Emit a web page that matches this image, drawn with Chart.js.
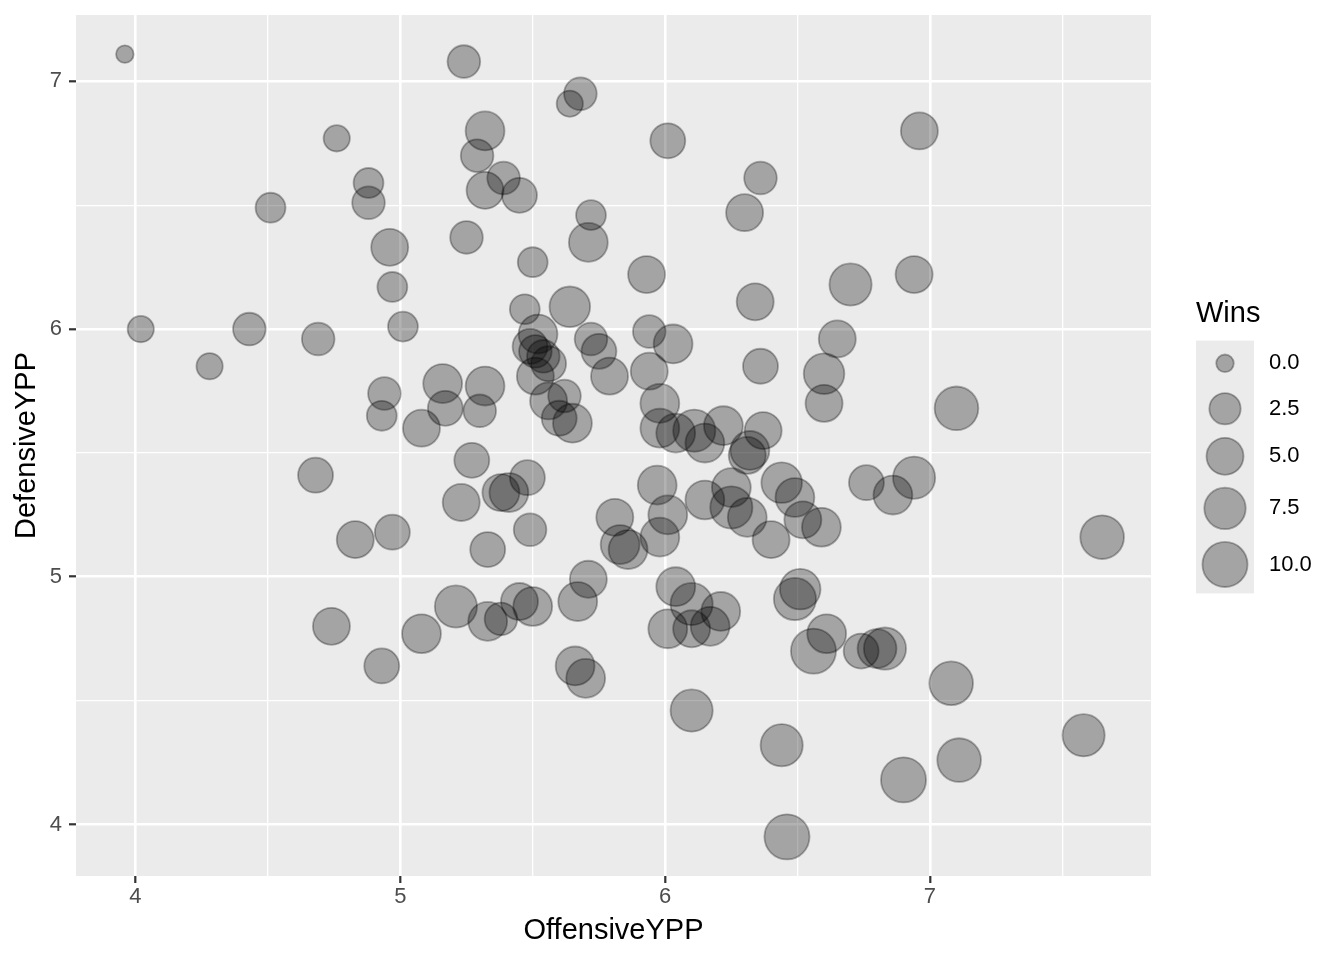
<!DOCTYPE html>
<html>
<head>
<meta charset="utf-8">
<title>DefensiveYPP vs OffensiveYPP</title>
<script src="https://cdn.jsdelivr.net/npm/chart.js@4.4.1/dist/chart.umd.min.js"></script>
<style>
  html, body { margin: 0; padding: 0; background: #ffffff; }
  #wrap { width: 1344px; height: 960px; }
</style>
</head>
<body>
<div id="wrap"><canvas id="chart" width="1344" height="960"></canvas></div>
<script>
// One entry per team: offensive / defensive yards per play and wins
const offensiveYPP = [
    3.96, 4.76, 4.88, 4.88, 4.51, 4.96, 4.97, 4.02, 4.43, 4.28, 4.69, 5.01, 4.94, 4.93, 5.08, 4.68, 4.83, 4.97, 4.74, 4.93, 5.08,
    5.24, 5.68, 5.64, 6.01, 5.32, 5.29, 5.39, 5.32, 5.45, 6.36, 6.30, 5.25, 5.72, 5.71, 5.50, 5.93, 6.34, 5.64, 5.47,
    6.96, 6.70, 6.94, 6.65, 6.60, 6.60, 7.10, 6.76, 6.86, 6.94, 7.65,
    5.52, 5.49, 5.51, 5.54, 5.56, 5.51, 5.56, 5.62, 5.60, 5.65, 5.72, 5.75, 5.79, 5.94, 6.03, 5.94, 5.98, 5.98, 6.04, 6.11, 6.15, 6.22, 6.37, 6.31, 6.32, 6.36,
    5.16, 5.32, 5.17, 5.30, 5.27, 5.23, 5.48, 5.38, 5.41, 5.49, 5.33,
    5.97, 6.01, 5.81, 5.83, 5.86, 5.98, 6.15, 6.25, 6.25, 6.31, 6.44, 6.40, 6.49, 6.52, 6.59,
    5.71, 6.04, 5.21, 5.33, 5.38, 5.45, 5.50, 5.67, 5.66, 5.70, 6.10, 6.01, 6.10, 6.17, 6.21, 6.10, 6.44, 6.46, 6.51, 6.49,
    6.61, 6.56, 6.74, 6.80, 6.83, 7.08, 7.58, 6.90, 7.11
];
const defensiveYPP = [
    7.11, 6.77, 6.59, 6.51, 6.49, 6.33, 6.17, 6.00, 6.00, 5.85, 5.96, 6.01, 5.74, 5.65, 5.60, 5.41, 5.15, 5.18, 4.80, 4.64, 4.77,
    7.08, 6.95, 6.91, 6.76, 6.80, 6.70, 6.61, 6.56, 6.54, 6.61, 6.47, 6.37, 6.46, 6.35, 6.27, 6.22, 6.11, 6.09, 6.08,
    6.80, 6.18, 6.22, 5.96, 5.82, 5.70, 5.68, 5.38, 5.33, 5.40, 5.16,
    5.98, 5.93, 5.91, 5.89, 5.86, 5.81, 5.71, 5.73, 5.64, 5.62, 5.96, 5.91, 5.81, 5.99, 5.94, 5.83, 5.70, 5.60, 5.58, 5.59, 5.54, 5.61, 5.59, 5.49, 5.51, 5.85,
    5.78, 5.77, 5.68, 5.67, 5.47, 5.30, 5.40, 5.34, 5.34, 5.19, 5.11,
    5.37, 5.25, 5.24, 5.13, 5.11, 5.16, 5.31, 5.36, 5.28, 5.24, 5.38, 5.15, 5.32, 5.23, 5.20,
    4.99, 4.96, 4.88, 4.82, 4.83, 4.90, 4.88, 4.90, 4.64, 4.59, 4.89, 4.79, 4.79, 4.80, 4.86, 4.46, 4.32, 3.95, 4.95, 4.91,
    4.77, 4.70, 4.70, 4.71, 4.71, 4.57, 4.36, 4.18, 4.26
];
const wins = [
    0, 1, 2, 3, 2, 5, 2, 1, 3, 1, 3, 2, 3, 2, 5, 4, 5, 4, 5, 4, 6,
    3, 3, 1, 4, 6, 3, 3, 5, 4, 3, 5, 3, 2, 6, 2, 5, 5, 7, 2,
    5, 8, 5, 5, 7, 5, 9, 4, 6, 8, 9,
    6, 4, 3, 3, 4, 5, 5, 3, 4, 6, 3, 4, 5, 3, 6, 5, 6, 6, 6, 8, 6, 6, 5, 5, 6, 4,
    6, 6, 4, 3, 4, 5, 4, 5, 6, 3, 4,
    6, 6, 5, 6, 6, 6, 6, 6, 8, 6, 7, 5, 6, 5, 6,
    5, 6, 8, 6, 3, 5, 6, 6, 6, 6, 8, 6, 5, 6, 6, 8, 8, 10, 7, 8,
    6, 10, 4, 6, 8, 9, 8, 10, 9
];

// axis breaks (labelled) and minor grid lines
const xBreaks = [4, 5, 6, 7];
const xMinorBreaks = [4.5, 5.5, 6.5, 7.5];
const yBreaks = [4, 5, 6, 7];
const yMinorBreaks = [4.5, 5.5, 6.5];

// size legend
const legendWins = [0, 2.5, 5, 7.5, 10];
const legendLabels = ['0.0', '2.5', '5.0', '7.5', '10.0'];

const FONT = '"Liberation Sans", Arial, Helvetica, sans-serif';
const PANEL = '#EBEBEB';
const POINT_FILL = 'rgba(0, 0, 0, 0.3)';
const POINT_LINE = 1.8;

// size scale: outer radius grows with sqrt(wins)
function winsRadius(w) {
    return 9.7 + 4.35 * Math.sqrt(w) - POINT_LINE / 2;
}

// pad the data range by 5% on each side
function expandRange(values) {
    let lo = Math.min(...values);
    let hi = Math.max(...values);
    let pad = (hi - lo) * 0.05;
    return [lo - pad, hi + pad];
}

function sortedTicks(major, minor) {
    return major.concat(minor).sort((a, b) => a - b).map(v => ({ value: v }));
}

const xRange = expandRange(offensiveYPP);
const yRange = expandRange(defensiveYPP);

// grey panel behind the grid
const panelBackground = {
    id: 'panelBackground',
    beforeDraw(chart) {
        const { ctx, chartArea } = chart;
        ctx.save();
        ctx.fillStyle = PANEL;
        ctx.fillRect(chartArea.left, chartArea.top, chartArea.right - chartArea.left, chartArea.bottom - chartArea.top);
        ctx.restore();
    }
};

// "Wins" size legend on the right
const sizeLegend = {
    id: 'sizeLegend',
    afterDraw(chart) {
        const ctx = chart.ctx;
        const area = chart.chartArea;
        const left = area.right + 45;
        const keyW = 58;
        const titleH = 43;
        const heights = legendWins.map(w => Math.max(45.4, 2 * (winsRadius(w) + POINT_LINE / 2) + 11));
        const keysH = heights.reduce((a, b) => a + b, 0);
        const top = (area.top + area.bottom) / 2 - (titleH + keysH) / 2;

        ctx.save();
        ctx.textAlign = 'left';
        ctx.textBaseline = 'middle';
        ctx.fillStyle = '#000000';
        ctx.font = '29px ' + FONT;
        ctx.fillText('Wins', left, top + 16);

        let y = top + titleH;
        ctx.fillStyle = PANEL;
        ctx.fillRect(left, y, keyW, keysH);

        legendWins.forEach((w, i) => {
            const cy = y + heights[i] / 2;
            ctx.beginPath();
            ctx.arc(left + keyW / 2, cy, winsRadius(w), 0, Math.PI * 2);
            ctx.fillStyle = POINT_FILL;
            ctx.fill();
            ctx.lineWidth = POINT_LINE;
            ctx.strokeStyle = POINT_FILL;
            ctx.stroke();

            ctx.fillStyle = '#000000';
            ctx.font = '22px ' + FONT;
            ctx.fillText(legendLabels[i], left + keyW + 15, cy);
            y += heights[i];
        });
        ctx.restore();
    }
};

const points = offensiveYPP.map((x, i) => ({ x: x, y: defensiveYPP[i] }));

const ctx = document.getElementById('chart').getContext('2d');
const chart = new Chart(ctx, {
    type: 'scatter',
    data: {
        datasets: [{
            label: 'Wins',
            data: points,
            backgroundColor: POINT_FILL,
            borderColor: POINT_FILL,
            borderWidth: POINT_LINE,
            pointRadius: c => winsRadius(wins[c.dataIndex]),
            pointHoverRadius: c => winsRadius(wins[c.dataIndex])
        }]
    },
    options: {
        responsive: false,
        animation: false,
        events: [],
        layout: {
            // no extra room for the big bubbles, the panel is fixed like ggplot's
            autoPadding: false,
            padding: { left: 0, top: 15, right: 193, bottom: 0 }
        },
        plugins: {
            legend: { display: false },
            tooltip: { enabled: false }
        },
        scales: {
            x: {
                type: 'linear',
                min: xRange[0],
                max: xRange[1],
                afterBuildTicks: scale => { scale.ticks = sortedTicks(xBreaks, xMinorBreaks); },
                afterFit: scale => {
                    scale.height = 84;
                    scale.paddingLeft = 0;
                    scale.paddingRight = 0;
                },
                border: { display: false },
                grid: {
                    color: '#FFFFFF',
                    lineWidth: c => (c.tick && xBreaks.includes(c.tick.value)) ? 2.6 : 1.3,
                    drawTicks: true,
                    tickLength: 7,
                    tickWidth: 2.2,
                    tickColor: c => (c.tick && xBreaks.includes(c.tick.value)) ? '#333333' : 'rgba(0,0,0,0)'
                },
                ticks: {
                    autoSkip: false,
                    maxRotation: 0,
                    padding: 1,
                    color: '#4D4D4D',
                    font: { family: FONT, size: 22 },
                    callback: v => xBreaks.includes(v) ? String(v) : ''
                },
                title: {
                    display: true,
                    text: 'OffensiveYPP',
                    color: '#000000',
                    font: { family: FONT, size: 29 },
                    padding: { top: 0, bottom: 12 }
                }
            },
            y: {
                type: 'linear',
                min: yRange[0],
                max: yRange[1],
                afterBuildTicks: scale => { scale.ticks = sortedTicks(yBreaks, yMinorBreaks); },
                afterFit: scale => {
                    scale.width = 76;
                    scale.paddingTop = 0;
                    scale.paddingBottom = 0;
                },
                border: { display: false },
                grid: {
                    color: '#FFFFFF',
                    lineWidth: c => (c.tick && yBreaks.includes(c.tick.value)) ? 2.6 : 1.3,
                    drawTicks: true,
                    tickLength: 7,
                    tickWidth: 2.2,
                    tickColor: c => (c.tick && yBreaks.includes(c.tick.value)) ? '#333333' : 'rgba(0,0,0,0)'
                },
                ticks: {
                    autoSkip: false,
                    padding: 7,
                    color: '#4D4D4D',
                    font: { family: FONT, size: 22 },
                    callback: v => yBreaks.includes(v) ? String(v) : ''
                },
                title: {
                    display: true,
                    text: 'DefensiveYPP',
                    color: '#000000',
                    font: { family: FONT, size: 29 },
                    padding: { top: 10, bottom: 0 }
                }
            }
        }
    },
    plugins: [panelBackground, sizeLegend]
});
</script>
</body>
</html>
